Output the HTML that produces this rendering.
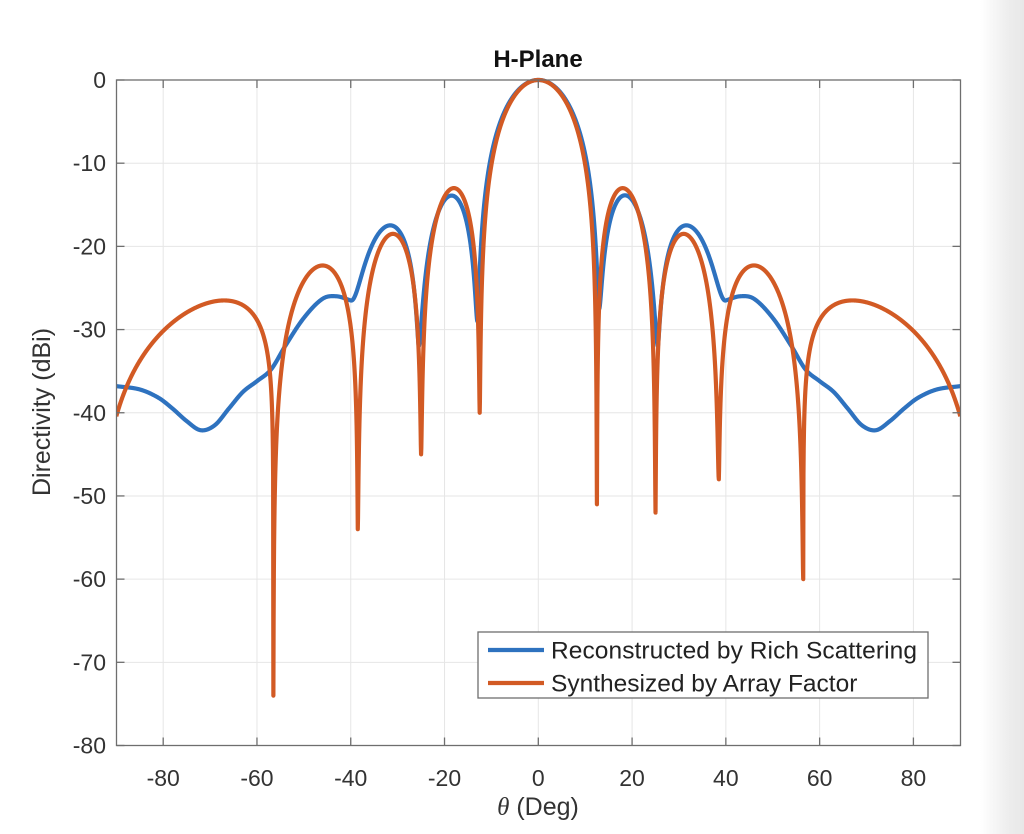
<!DOCTYPE html>
<html><head><meta charset="utf-8"><style>
html,body{margin:0;padding:0;background:#fff}
body{width:1024px;height:834px;overflow:hidden;position:relative;font-family:"Liberation Sans",Arial,sans-serif}
#g{position:absolute;right:0;top:0;width:44px;height:834px;background:linear-gradient(to right,#fff,#ececec 70%,#e8e8e8)}
</style></head><body>
<div id="g"></div>
<svg id="s" width="1024" height="834" style="position:absolute;left:0;top:0" font-family="Liberation Sans, Arial, sans-serif"></svg>
<script>
const L=116.5,R=960.5,T=80,B=745.5,X0=538.3,SX=(R-L)/180,SY=(B-T)/80;
const px=x=>X0+x*SX, py=y=>T-y*SY;
let h='';
for(let x=-80;x<=80;x+=20)h+=`<line x1="${px(x)}" y1="${T}" x2="${px(x)}" y2="${B}" stroke="#e6e6e6" stroke-width="1"/>`;
for(let y=-70;y<=-10;y+=10)h+=`<line x1="${L}" y1="${py(y)}" x2="${R}" y2="${py(y)}" stroke="#e6e6e6" stroke-width="1"/>`;
function lobe(x,a,b,c,P,da,db){let u=(x-a)/(b-a);if(u<0)u=0;if(u>1)u=1;const p=Math.log(0.5)/Math.log((c-a)/(b-a));
 const ea=Math.pow(10,(da-P)/10),eb=Math.pow(10,(db-P)/10);const e=ea*(1-u)+eb*u;const s=Math.sin(Math.PI*Math.pow(u,p));return P+10*Math.log10(s*s+e);}
function orangeHalf(t,side){
 const d=side>0?[-51,-52,-48,-60]:[-40,-45,-54,-74];
 if(t<12.5)return lobe(t,-12.5,12.5,0,0,d[0],d[0]);
 if(t<25)return lobe(t,12.5,25,18,-13,d[0],d[1]);
 if(t<38.5)return lobe(t,25,38.5,31,-18.5,d[1],d[2]);
 if(t<56.5)return lobe(t,38.5,56.5,46,-22.3,d[2],d[3]);
 return lobe(t,56.5,94.4,67,-26.5,d[3],-80);}
const bp=[[40,-26.5],[43,-26],[46,-26.3],[50,-28.6],[54,-32],[57,-34.8],[60,-36.2],[63,-37.5],[66,-39.5],[69,-41.5],[72,-42.1],[75,-41],[78,-39.5],[81,-38.2],[85,-37.2],[90,-36.8]];
function cr(t){for(let i=0;i<bp.length-1;i++){if(t<=bp[i+1][0]){const p0=bp[Math.max(0,i-1)],p1=bp[i],p2=bp[i+1],p3=bp[Math.min(bp.length-1,i+2)];const u=(t-p1[0])/(p2[0]-p1[0]);
 const m1=(p2[1]-p0[1])/(p2[0]-p0[0])*(p2[0]-p1[0]),m2=(p3[1]-p1[1])/(p3[0]-p1[0])*(p2[0]-p1[0]);
 const u2=u*u,u3=u2*u;return (2*u3-3*u2+1)*p1[1]+(u3-2*u2+u)*m1+(-2*u3+3*u2)*p2[1]+(u3-u2)*m2;}}return bp[bp.length-1][1];}
function blueHalf(t,side){const d0=side>0?-27.5:-29;
 if(t<13)return lobe(t,-13,13,0,0,d0,d0);
 if(t<25.5)return lobe(t,13,25.5,18.5,-14,d0,-32);
 if(t<40)return lobe(t,25.5,40,31.5,-17.8,-32,-26.5);
 return cr(t);}
function path(f){let d='';for(let x=-90;x<=90.001;x+=0.05){const s=x<0?-1:1;let y=f(Math.abs(x),s);y=Math.max(y,-80);d+=(d?'L':'M')+px(x).toFixed(2)+' '+py(y).toFixed(2);}return d;}
h+=`<clipPath id="c"><rect x="${L}" y="${T-3}" width="${R-L}" height="${B-T+3}"/></clipPath>`;
h+=`<g clip-path="url(#c)" fill="none" stroke-width="4.2" stroke-linejoin="round"><path d="${path(blueHalf)}" stroke="#2e72bf"/><path d="${path(orangeHalf)}" stroke="#d25a24"/></g>`;
h+=`<rect x="${L}" y="${T}" width="${R-L}" height="${B-T}" fill="none" stroke="#6e6e6e" stroke-width="1.3"/>`;
for(let x=-80;x<=80;x+=20){h+=`<line x1="${px(x)}" y1="${B}" x2="${px(x)}" y2="${B-8}" stroke="#6e6e6e" stroke-width="1.3"/><line x1="${px(x)}" y1="${T}" x2="${px(x)}" y2="${T+8}" stroke="#6e6e6e" stroke-width="1.3"/>`;
 h+=`<text x="${px(x)}" y="786" font-size="23" fill="#333" text-anchor="middle">${x}</text>`;}
for(let y=0;y>=-80;y-=10){h+=`<line x1="${L}" y1="${py(y)}" x2="${L+8}" y2="${py(y)}" stroke="#6e6e6e" stroke-width="1.3"/><line x1="${R}" y1="${py(y)}" x2="${R-8}" y2="${py(y)}" stroke="#6e6e6e" stroke-width="1.3"/>`;
 h+=`<text x="106" y="${py(y)+8}" font-size="23" fill="#333" text-anchor="end">${y}</text>`;}
h+=`<text x="538" y="67" font-size="24" font-weight="bold" fill="#111" text-anchor="middle">H-Plane</text>`;
h+=`<text transform="translate(50,412) rotate(-90)" font-size="25" fill="#333" text-anchor="middle">Directivity (dBi)</text>`;
h+=`<text x="538" y="815" font-size="25" fill="#333" text-anchor="middle"><tspan font-family="Liberation Serif, serif" font-style="italic">θ</tspan> (Deg)</text>`;
h+=`<rect x="478" y="632" width="450" height="66" fill="#fff" stroke="#6e6e6e" stroke-width="1.3"/>`;
h+=`<line x1="488" y1="650" x2="544" y2="650" stroke="#2e72bf" stroke-width="4.2"/><text x="551" y="658.5" font-size="24.5" textLength="366" fill="#222">Reconstructed by Rich Scattering</text>`;
h+=`<line x1="488" y1="683" x2="544" y2="683" stroke="#d25a24" stroke-width="4.2"/><text x="551" y="691.5" font-size="24.5" fill="#222">Synthesized by Array Factor</text>`;
document.getElementById('s').innerHTML=h;
</script>
</body></html>
